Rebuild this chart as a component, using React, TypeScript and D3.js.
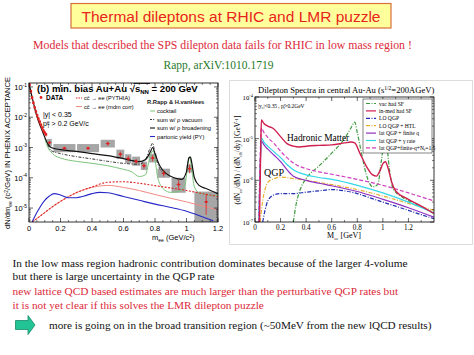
import React from 'react';
import * as d3 from 'd3';

// ================= Left chart (PHENIX) =================
const leftXTicks = [0, 0.2, 0.4, 0.6, 0.8, 1.0, 1.2];
const leftXTickLabels = ['0', '0.2', '0.4', '0.6', '0.8', '1', '1.2'];
const leftYTicks = [1e-1, 1e-2, 1e-3, 1e-4, 1e-5];
const leftYTickExp = ['-1', '-2', '-3', '-4', '-5'];

const lowMassM = [0.004, 0.012, 0.02, 0.028, 0.036, 0.044, 0.052, 0.06, 0.068, 0.076, 0.084, 0.092, 0.1, 0.108];
const lowMassY = [0.118, 0.072, 0.044, 0.03, 0.021, 0.0155, 0.0115, 0.0089, 0.0071, 0.0056, 0.0045, 0.0036, 0.0031, 0.0027];

const dataM = [0.13, 0.225, 0.375, 0.5, 0.58, 0.63, 0.68, 0.73, 0.785, 0.855, 0.95, 1.02, 1.125];
const dataY = [1.45e-3, 9.5e-4, 9.5e-4, 1.35e-3, 6e-4, 4.3e-4, 3.5e-4, 2.5e-4, 4.5e-4, 1.4e-4, 6e-5, 2e-4, 1.6e-5];
const dataHalfW = [0.015, 0.07, 0.07, 0.045, 0.025, 0.02, 0.025, 0.02, 0.025, 0.04, 0.045, 0.02, 0.075];
const dataSysLo = [1.1e-3, 7e-4, 7e-4, 1e-3, 4.2e-4, 3e-4, 2.5e-4, 1.8e-4, 3.2e-4, 1e-4, 3.2e-5, 1.5e-4, 2e-6];
const dataSysHi = [1.9e-3, 1.3e-3, 1.3e-3, 1.8e-3, 8.5e-4, 6e-4, 5e-4, 3.4e-4, 6.2e-4, 2e-4, 1e-4, 2.7e-4, 3.5e-5];
const dataErrLo = [1.25e-3, 8.5e-4, 8.5e-4, 1.15e-3, 4.8e-4, 3.5e-4, 2.9e-4, 2.0e-4, 3.5e-4, 1.1e-4, 4e-5, 1.4e-4, 6e-6];
const dataErrHi = [1.65e-3, 1.05e-3, 1.05e-3, 1.55e-3, 7.3e-4, 5.2e-4, 4.2e-4, 3.0e-4, 5.6e-4, 1.75e-4, 8.5e-5, 2.8e-4, 3e-5];

const sumBroadM = [0.0, 0.02, 0.05, 0.08, 0.1, 0.12, 0.14, 0.2, 0.3, 0.4, 0.5, 0.6, 0.7, 0.74, 0.77, 0.785, 0.8, 0.83, 0.87, 0.92, 0.97, 1.0, 1.015, 1.025, 1.035, 1.05, 1.08, 1.12, 1.2];
const sumBroadY = [0.126, 0.045, 0.0107, 0.004, 0.0022, 0.0013, 1e-3, 8.5e-4, 7.4e-4, 6.3e-4, 5.4e-4, 4.3e-4, 3.4e-4, 4e-4, 7.1e-4, 1e-3, 6.3e-4, 2.5e-4, 1.4e-4, 1e-4, 8.9e-5, 1.6e-4, 4.5e-4, 4.8e-4, 2.8e-4, 1e-4, 5.6e-5, 4.5e-5, 3e-5];

const sumVacM = [0.12, 0.14, 0.2, 0.3, 0.4, 0.5, 0.6, 0.7, 0.74, 0.77, 0.785, 0.8, 0.83, 0.87];
const sumVacY = [1.25e-3, 7.9e-4, 6.3e-4, 5e-4, 4.2e-4, 3.5e-4, 3e-4, 2.8e-4, 4e-4, 1e-3, 1.4e-3, 6.3e-4, 2e-4, 1.3e-4];

const cocktailM = [0.1, 0.12, 0.14, 0.16, 0.2, 0.3, 0.4, 0.5, 0.55, 0.6, 0.65, 0.7, 0.74, 0.76, 0.78, 0.79, 0.8, 0.82, 0.86, 0.9, 0.95, 0.99, 1.01, 1.02, 1.03, 1.05, 1.08, 1.2];
const cocktailY = [2e-3, 1e-3, 7.1e-4, 5.6e-4, 4.5e-4, 3.5e-4, 3e-4, 2.5e-4, 2.2e-4, 1.9e-4, 1.6e-4, 1.1e-4, 1.26e-4, 3.2e-4, 7.1e-4, 7.9e-4, 4e-4, 8.9e-5, 4e-5, 3.3e-5, 3.5e-5, 5.6e-5, 3.2e-4, 5e-4, 2.5e-4, 5e-5, 3.2e-5, 2.5e-5];

const charmM = [0.02, 0.05, 0.1, 0.15, 0.2, 0.3, 0.4, 0.5, 0.6, 0.7, 0.8, 0.9, 1.0, 1.1, 1.2];
const charmPythiaY = [3.5e-6, 4.5e-6, 7.1e-6, 1.12e-5, 1.66e-5, 3.2e-5, 5e-5, 7.1e-5, 7.4e-5, 6.6e-5, 5.5e-5, 4.6e-5, 3.8e-5, 3e-5, 2.4e-5];
const charmRndmY = [3.5e-6, 4.5e-6, 7.1e-6, 1.12e-5, 1.66e-5, 3.2e-5, 4.8e-5, 5.6e-5, 4.8e-5, 3.8e-5, 2.8e-5, 2.1e-5, 1.6e-5, 1.17e-5, 8.7e-6];

const partonicM = [0.02, 0.05, 0.1, 0.13, 0.16, 0.2, 0.25, 0.3, 0.35, 0.4, 0.45, 0.5, 0.6, 0.7, 0.8, 0.9, 1.0, 1.1, 1.17];
const partonicY = [3.5e-6, 7.1e-6, 1.8e-5, 2.5e-5, 3e-5, 2.7e-5, 2.2e-5, 2.2e-5, 2.5e-5, 3e-5, 3.3e-5, 3.2e-5, 2.4e-5, 1.8e-5, 1.35e-5, 1.05e-5, 7.9e-6, 5.2e-6, 3.8e-6];

// ================= Right chart (Rapp) =================
const rightXTicks = [0, 0.2, 0.4, 0.6, 0.8, 1.0, 1.2];
const rightXTickLabels = ['0', '0.2', '0.4', '0.6', '0.8', '1', '1.2'];
const rightYTicks = [1e-4, 1e-5, 1e-6, 1e-7];
const rightYTickExp = ['-4', '-5', '-6', '-7'];

const inMedM = [0.035, 0.045, 0.05, 0.07, 0.1, 0.14, 0.2, 0.25, 0.3, 0.35, 0.4, 0.5, 0.6, 0.7, 0.75, 0.78, 0.82, 0.87, 0.92, 0.95, 0.98, 1.0, 1.02, 1.04, 1.07, 1.1, 1.2, 1.3, 1.4];
const inMedY = [1e-7, 6.3e-6, 2.8e-5, 2.3e-5, 2.0e-5, 1.78e-5, 1.12e-5, 7.6e-6, 6.6e-6, 6.3e-6, 6.6e-6, 6.9e-6, 7.1e-6, 7.9e-6, 8.3e-6, 7.9e-6, 4.5e-6, 2.2e-6, 1.35e-6, 1.26e-6, 1.78e-6, 2.5e-6, 2.8e-6, 2.0e-6, 8.9e-7, 5.6e-7, 3.5e-7, 2.4e-7, 1.6e-7];

const vacHadM = [0.3, 0.32, 0.35, 0.4, 0.5, 0.6, 0.7, 0.75, 0.78, 0.8, 0.83, 0.87, 0.92, 0.96, 0.99, 1.01, 1.02, 1.03, 1.05, 1.08, 1.15, 1.25, 1.4];
const vacHadY = [1e-7, 2.5e-7, 5.6e-7, 1.1e-6, 2.2e-6, 4.5e-6, 1e-5, 1.8e-5, 2.5e-5, 1.4e-5, 5e-6, 1.4e-6, 7e-7, 8e-7, 3.2e-6, 7.9e-6, 8e-6, 7e-6, 2e-6, 6.3e-7, 4e-7, 2.8e-7, 1.6e-7];

const loQgpM = [0.06, 0.08, 0.1, 0.15, 0.2, 0.3, 0.4, 0.5, 0.6, 0.7, 0.8, 0.9, 1.0, 1.1, 1.2, 1.3, 1.4];
const loQgpY = [1e-7, 2e-7, 3.2e-7, 4.5e-7, 4.8e-7, 4.8e-7, 5.2e-7, 5.6e-7, 6e-7, 5.6e-7, 4.8e-7, 3.8e-7, 3e-7, 2.4e-7, 1.9e-7, 1.5e-7, 1.2e-7];

const htlM = [0.04, 0.06, 0.08, 0.1, 0.15, 0.2, 0.3, 0.4, 0.6, 0.8, 1.0, 1.2, 1.4];
const htlY = [1e-7, 3.2e-7, 6.3e-7, 8.9e-7, 1.1e-6, 1.2e-6, 1.1e-6, 1e-6, 7.9e-7, 6e-7, 4.2e-7, 2.8e-7, 1.9e-7];

const latM = [0.03, 0.045, 0.05, 0.07, 0.1, 0.15, 0.2, 0.25, 0.3, 0.4, 0.5, 0.6, 0.8, 1.0, 1.2, 1.4];
const latFiniteQY = [1e-7, 5e-6, 8.9e-6, 7.1e-6, 5.6e-6, 4e-6, 2.8e-6, 1.8e-6, 1.26e-6, 1e-6, 8.5e-7, 7.4e-7, 5.4e-7, 3.5e-7, 2.2e-7, 1.3e-7];
const latGammaY = [1e-7, 5.6e-6, 1.05e-5, 8.3e-6, 6.6e-6, 4.8e-6, 3.5e-6, 2.4e-6, 1.8e-6, 1.35e-6, 1.17e-6, 1.05e-6, 7.6e-7, 5e-7, 3e-7, 1.66e-7];
const latNfY = [1e-7, 1e-5, 1.8e-5, 1.4e-5, 1.07e-5, 7.6e-6, 5e-6, 3.5e-6, 2.6e-6, 1.9e-6, 1.6e-6, 1.4e-6, 1.05e-6, 7.6e-7, 5e-7, 3.2e-7];

const rightLegend = [
  { label: 'vac had SF', color: '#3c9a3c', dash: '4,1.5,1,1.5' },
  { label: 'in-med had SF', color: '#d01e4e', dash: '' },
  { label: 'LO QGP', color: '#2030b0', dash: '4,1.5,1,1.5' },
  { label: 'LO QGP + HTL', color: '#e8b030', dash: '4,1.5,1,1.5' },
  { label: 'lat QGP + finite q', color: '#9030c0', dash: '' },
  { label: 'lat QGP + \u03b3 rate', color: '#30d8e8', dash: '' },
  { label: 'lat QGP+finite-q+N', color: '#d040c0', dash: '4,2' },
];

const zip = (a: number[], b: number[]) => a.map((m, i) => [m, b[i]] as [number, number]);

function Pow10({ x, y, exp, fs, font, anchor = 'end' }: any) {
  return (
    <text x={x} y={y} fontSize={fs} fontFamily={font} textAnchor={anchor} fill="#000">
      10<tspan dy={-fs * 0.45} fontSize={fs * 0.65}>{exp}</tspan>
    </text>
  );
}

function logMinor(lo: number, hi: number) {
  const out: number[] = [];
  for (let e = -8; e <= 0; e++) {
    for (let k = 2; k <= 9; k++) {
      const v = k * Math.pow(10, e);
      if (v > lo && v < hi) out.push(v);
    }
  }
  return out;
}

const SANS = 'Liberation Sans, Arial, sans-serif';
const SERIF = 'Liberation Serif, Times New Roman, serif';

function LeftChart() {
  const x0 = 29, x1 = 218, y0 = 83, y1 = 222;
  const x = d3.scaleLinear().domain([0, 1.2]).range([x0, x1]);
  const y = d3.scaleLog().domain([Math.pow(10, -5.46), Math.pow(10, -0.87)]).range([y1, y0]);
  const line = d3.line<[number, number]>().x(d => x(d[0])).y(d => y(d[1])).curve(d3.curveMonotoneX);
  const minorX = d3.range(0.05, 1.2, 0.05).filter(v => Math.abs(v / 0.2 - Math.round(v / 0.2)) > 0.01);
  const minorY = logMinor(y.domain()[0], y.domain()[1]);
  return (
    <g>
      <defs>
        <clipPath id="clipL"><rect x={x0} y={y0} width={x1 - x0} height={y1 - y0} /></clipPath>
      </defs>
      <rect x={x0} y={y0} width={x1 - x0} height={y1 - y0} fill="#fff" />
      <g clipPath="url(#clipL)">
        {dataM.map((m, i) => (
          <rect key={'b' + i} x={x(m - dataHalfW[i])} y={y(dataSysHi[i])} width={x(m + dataHalfW[i]) - x(m - dataHalfW[i])}
            height={y(dataSysLo[i]) - y(dataSysHi[i])} fill="#9c9c9c" opacity={0.9} />
        ))}
        <path d={line(zip(cocktailM, cocktailY)) || ''} fill="none" stroke="#7cc47c" strokeWidth={1} />
        <path d={line(zip(charmM, charmRndmY)) || ''} fill="none" stroke="#f08a84" strokeWidth={1} />
        <path d={line(zip(charmM, charmPythiaY)) || ''} fill="none" stroke="#e02828" strokeWidth={1.1} strokeDasharray="2,1.5" />
        <path d={line(zip(partonicM, partonicY)) || ''} fill="none" stroke="#2828c8" strokeWidth={1.1} />
        <path d={line(zip(sumVacM, sumVacY)) || ''} fill="none" stroke="#222" strokeWidth={0.9} strokeDasharray="3,1.5,1,1.5" />
        <path d={line(zip(sumBroadM, sumBroadY)) || ''} fill="none" stroke="#111" strokeWidth={1.2} />
        {dataM.map((m, i) => (
          <g key={'d' + i}>
            <line x1={x(m)} x2={x(m)} y1={y(dataErrLo[i])} y2={y(dataErrHi[i])} stroke="#e02020" strokeWidth={0.8} />
            <line x1={x(m) - 2} x2={x(m) + 2} y1={y(dataY[i])} y2={y(dataY[i])} stroke="#e02020" strokeWidth={0.8} />
            <circle cx={x(m)} cy={y(dataY[i])} r={1.2} fill="#e02020" />
          </g>
        ))}
        {lowMassM.map((m, i) => (
          <g key={'l' + i}>
            <line x1={x(m)} x2={x(m)} y1={y(lowMassY[i] * 0.85)} y2={y(lowMassY[i] * 1.15)} stroke="#e02020" strokeWidth={0.8} />
            <rect x={x(m) - 1.2} y={y(lowMassY[i]) - 1.2} width={2.4} height={2.4} fill="#e02020" />
          </g>
        ))}
      </g>
      <rect x={x0} y={y0} width={x1 - x0} height={y1 - y0} fill="none" stroke="#000" strokeWidth={0.8} />
      {leftXTicks.map((t, i) => (
        <g key={'xt' + i}>
          <line x1={x(t)} x2={x(t)} y1={y1} y2={y1 - 4} stroke="#000" strokeWidth={0.6} />
          <line x1={x(t)} x2={x(t)} y1={y0} y2={y0 + 4} stroke="#000" strokeWidth={0.6} />
          <text x={x(t)} y={y1 + 9} fontSize={7.5} fontFamily={SANS} textAnchor="middle">{leftXTickLabels[i]}</text>
        </g>
      ))}
      {minorX.map((t, i) => (
        <g key={'xm' + i}>
          <line x1={x(t)} x2={x(t)} y1={y1} y2={y1 - 2} stroke="#000" strokeWidth={0.5} />
          <line x1={x(t)} x2={x(t)} y1={y0} y2={y0 + 2} stroke="#000" strokeWidth={0.5} />
        </g>
      ))}
      {leftYTicks.map((t, i) => (
        <g key={'yt' + i}>
          <line x1={x0} x2={x0 + 4} y1={y(t)} y2={y(t)} stroke="#000" strokeWidth={0.6} />
          <line x1={x1} x2={x1 - 4} y1={y(t)} y2={y(t)} stroke="#000" strokeWidth={0.6} />
          <Pow10 x={x0 - 2} y={y(t) + 3} exp={leftYTickExp[i]} fs={7.5} font={SANS} />
        </g>
      ))}
      {minorY.map((t, i) => (
        <g key={'ym' + i}>
          <line x1={x0} x2={x0 + 2} y1={y(t)} y2={y(t)} stroke="#000" strokeWidth={0.5} />
          <line x1={x1} x2={x1 - 2} y1={y(t)} y2={y(t)} stroke="#000" strokeWidth={0.5} />
        </g>
      ))}
      <text transform="translate(10,153) rotate(-90)" fontSize={7.6} fontFamily={SANS} textAnchor="middle">
        dN/dm<tspan dy={1.5} fontSize={5}>ee</tspan><tspan dy={-1.5}> (c</tspan><tspan dy={-2.5} fontSize={5}>2</tspan><tspan dy={2.5}>/GeV) IN PHENIX ACCEPTANCE</tspan>
      </text>
      <text x={152} y={240} fontSize={7.5} fontFamily={SANS}>
        m<tspan dy={1.5} fontSize={5}>ee</tspan><tspan dy={-1.5}> (GeV/c</tspan><tspan dy={-2.5} fontSize={5}>2</tspan><tspan dy={2.5}>)</tspan>
      </text>
      <text x={37} y={92} fontSize={9.6} fontWeight="bold" fontFamily={SANS}>
        (b) min. bias Au+Au {'\u221A'}s<tspan dy={2} fontSize={6}>NN</tspan><tspan dy={-2}> = 200 GeV</tspan>
      </text>
      <line x1={133.5} x2={150} y1={83.5} y2={83.5} stroke="#000" strokeWidth={0.8} />
      <circle cx={41} cy={97.5} r={1.4} fill="#e02020" />
      <text x={46} y={100} fontSize={6.5} fontWeight="bold" fontFamily={SANS}>DATA</text>
      <text x={43} y={117} fontSize={7} fontFamily={SANS}>|y| &lt; 0.35</text>
      <text x={43} y={126} fontSize={7} fontFamily={SANS}>
        p<tspan dy={-2.5} fontSize={4.5}>e</tspan><tspan dx={-2.5} dy={4.5} fontSize={4.5}>T</tspan><tspan dy={-2}> &gt; 0.2 GeV/c</tspan>
      </text>
      <line x1={76} x2={82} y1={98} y2={98} stroke="#e02828" strokeWidth={1} strokeDasharray="1.5,1" />
      <text x={84} y={100} fontSize={5.6} fontFamily={SANS}>c{'c\u0304'} {'\u2192'} ee (PYTHIA)</text>
      <line x1={76} x2={82} y1={106.5} y2={106.5} stroke="#f08a84" strokeWidth={1} />
      <text x={84} y={108.5} fontSize={5.6} fontFamily={SANS}>c{'c\u0304'} {'\u2192'} ee (rndm corr)</text>
      <text x={147} y={104} fontSize={5.8} fontWeight="bold" fontFamily={SANS} fill="#222">R.Rapp &amp; H.vanHees</text>
      <line x1={150} x2={155} y1={111} y2={111} stroke="#7cc47c" strokeWidth={1} />
      <text x={157} y={113} fontSize={5.8} fontFamily={SANS}>cocktail</text>
      <line x1={150} x2={155} y1={119.5} y2={119.5} stroke="#222" strokeWidth={0.9} strokeDasharray="2,1,0.8,1" />
      <text x={157} y={121.5} fontSize={5.8} fontFamily={SANS}>sum w/ {'\u03c1'} vacuum</text>
      <line x1={150} x2={155} y1={128} y2={128} stroke="#111" strokeWidth={1.1} />
      <text x={157} y={130} fontSize={5.8} fontFamily={SANS}>sum w/ {'\u03c1'} broadening</text>
      <line x1={150} x2={155} y1={136.5} y2={136.5} stroke="#2828c8" strokeWidth={1.1} />
      <text x={157} y={138.5} fontSize={5.8} fontFamily={SANS}>partonic yield (PY)</text>
    </g>
  );
}

function RightChart() {
  const x0 = 255, x1 = 434, y0 = 97, y1 = 222;
  const x = d3.scaleLinear().domain([0, 1.4]).range([x0, x1]);
  const y = d3.scaleLog().domain([1e-7, 1e-4]).range([y1, y0]);
  const line = d3.line<[number, number]>().x(d => x(d[0])).y(d => y(d[1])).curve(d3.curveMonotoneX);
  const minorX = d3.range(0.1, 1.4, 0.2);
  const minorY = logMinor(1e-7, 1e-4);
  const series = [
    { m: vacHadM, v: vacHadY, ...rightLegend[0] },
    { m: loQgpM, v: loQgpY, ...rightLegend[2] },
    { m: htlM, v: htlY, ...rightLegend[3] },
    { m: latM, v: latFiniteQY, ...rightLegend[4] },
    { m: latM, v: latGammaY, ...rightLegend[5] },
    { m: latM, v: latNfY, ...rightLegend[6] },
    { m: inMedM, v: inMedY, ...rightLegend[1] },
  ];
  return (
    <g>
      <rect x={229.5} y={80.5} width={243} height={164} fill="#fff" stroke="#dcdcdc" strokeWidth={1} />
      <defs>
        <clipPath id="clipR"><rect x={x0} y={y0} width={x1 - x0} height={y1 - y0} /></clipPath>
      </defs>
      <text x={258} y={93} fontSize={8.6} fontFamily={SERIF}>
        Dilepton Spectra in central Au-Au (s<tspan dy={-3} fontSize={5.5}>1/2</tspan><tspan dy={3}>=200AGeV)</tspan>
      </text>
      <g clipPath="url(#clipR)">
        {series.map((s, i) => (
          <path key={i} d={line(zip(s.m, s.v)) || ''} fill="none" stroke={s.color}
            strokeWidth={s.label === 'in-med had SF' ? 1.4 : 1.2} strokeDasharray={s.dash} />
        ))}
      </g>
      <rect x={x0} y={y0} width={x1 - x0} height={y1 - y0} fill="none" stroke="#000" strokeWidth={0.8} />
      {rightXTicks.map((t, i) => (
        <g key={'xt' + i}>
          <line x1={x(t)} x2={x(t)} y1={y1} y2={y1 - 4} stroke="#000" strokeWidth={0.6} />
          <line x1={x(t)} x2={x(t)} y1={y0} y2={y0 + 4} stroke="#000" strokeWidth={0.6} />
          <text x={x(t)} y={y1 + 8} fontSize={7.2} fontFamily={SERIF} textAnchor="middle">{rightXTickLabels[i]}</text>
        </g>
      ))}
      {minorX.map((t, i) => (
        <g key={'xm' + i}>
          <line x1={x(t)} x2={x(t)} y1={y1} y2={y1 - 2} stroke="#000" strokeWidth={0.5} />
          <line x1={x(t)} x2={x(t)} y1={y0} y2={y0 + 2} stroke="#000" strokeWidth={0.5} />
        </g>
      ))}
      {rightYTicks.map((t, i) => (
        <g key={'yt' + i}>
          <line x1={x0} x2={x0 + 4} y1={y(t)} y2={y(t)} stroke="#000" strokeWidth={0.6} />
          <line x1={x1} x2={x1 - 4} y1={y(t)} y2={y(t)} stroke="#000" strokeWidth={0.6} />
          <Pow10 x={x0 - 2} y={y(t) + 3} exp={rightYTickExp[i]} fs={6.8} font={SERIF} />
        </g>
      ))}
      {minorY.map((t, i) => (
        <g key={'ym' + i}>
          <line x1={x0} x2={x0 + 2} y1={y(t)} y2={y(t)} stroke="#000" strokeWidth={0.5} />
          <line x1={x1} x2={x1 - 2} y1={y(t)} y2={y(t)} stroke="#000" strokeWidth={0.5} />
        </g>
      ))}
      <text transform="translate(240,160) rotate(-90)" fontSize={7.4} fontFamily={SERIF} textAnchor="middle">
        (dN<tspan dy={1.5} fontSize={4.8}>ee</tspan><tspan dy={-1.5}>/dM) / (dN</tspan><tspan dy={1.5} fontSize={4.8}>ch</tspan><tspan dy={-1.5}>/dy)  [GeV</tspan><tspan dy={-2.5} fontSize={4.8}>-1</tspan><tspan dy={2.5}>]</tspan>
      </text>
      <text x={327} y={238} fontSize={8} fontFamily={SERIF}>
        M<tspan dy={1.5} fontSize={5}>ee</tspan><tspan dy={-1.5}> [GeV]</tspan>
      </text>
      <text x={258} y={108} fontSize={5.4} fontFamily={SERIF}>
        |y<tspan dy={1} fontSize={3.8}>e</tspan><tspan dy={-1}>|&lt;0.35 ,  p</tspan><tspan dy={-2} fontSize={3.8}>e</tspan><tspan dx={-2} dy={3} fontSize={3.8}>t</tspan><tspan dy={-1}>&gt;0.2GeV</tspan>
      </text>
      <text x={287} y={141} fontSize={9.4} fontFamily={SERIF}>Hadronic Matter</text>
      <text x={264} y={176} fontSize={10} fontFamily={SERIF}>QGP</text>
      <rect x={363} y={99} width={69} height={54} fill="#fff" stroke="#333" strokeWidth={0.6} />
      {rightLegend.map((s, i) => (
        <g key={'lg' + i}>
          <line x1={366} x2={376} y1={103.5 + i * 7.4} y2={103.5 + i * 7.4} stroke={s.color} strokeWidth={1.2} strokeDasharray={s.dash} />
          <text x={379} y={105.5 + i * 7.4} fontSize={5.6} fontFamily={SERIF}>
            {s.label}{i === 6 ? <><tspan dy={1} fontSize={3.8}>f</tspan><tspan dy={-1}>=1.5</tspan></> : null}
          </text>
        </g>
      ))}
    </g>
  );
}

export default function App() {
  const red = '#dd2a3a';
  return (
    <svg width={W} height={H} viewBox={`0 0 ${W} ${H}`} style={{ position: 'absolute', left: 0, top: 0, background: '#fff' }}>
      <rect x={0} y={0} width={W} height={H} fill="#fff" />
      <rect x={71} y={3.5} width={320} height={24.5} fill="#ffff9c" stroke="#d8703a" strokeWidth={1.2} />
      <text x={231} y={21.5} fontSize={15.5} fontFamily={SANS} fill="#e8241c" textAnchor="middle">Thermal dileptons at RHIC and LMR puzzle</text>
      <text x={222.5} y={48.5} fontSize={11.8} fontFamily={SERIF} fill={red} textAnchor="middle">Models that described the SPS dilepton data fails for RHIC in low mass region !</text>
      <text x={218.5} y={69} fontSize={11.5} fontFamily={SERIF} fill="#1f7a2a" textAnchor="middle">Rapp, arXiV:1010.1719</text>
      <LeftChart />
      <RightChart />
      <text x={12.5} y={267} fontSize={11.3} fontFamily={SERIF} fill="#111">In the low mass region hadronic contribution dominates because of the larger 4-volume</text>
      <text x={12.5} y={280} fontSize={11.3} fontFamily={SERIF} fill="#111">but there is large uncertainty in the QGP rate</text>
      <text x={12.5} y={295} fontSize={11.3} fontFamily={SERIF} fill={red}>new lattice QCD based estimates are much larger than the perturbative QGP rates but</text>
      <text x={12.5} y={308.5} fontSize={11.3} fontFamily={SERIF} fill={red}>it is  not yet clear if this solves the LMR dilepton puzzle</text>
      <path d="M15.5,320.5 L28,320.5 L28,315.5 L35,325 L28,334.5 L28,329.5 L15.5,329.5 Z" fill="#22c496" stroke="#168a68" strokeWidth={0.8} />
      <text x={49} y={329} fontSize={11.2} fontFamily={SERIF} fill="#111">more is going on in the broad transition region (~50MeV from the new lQCD results)</text>
    </svg>
  );
}

const W = 474, H = 355;
